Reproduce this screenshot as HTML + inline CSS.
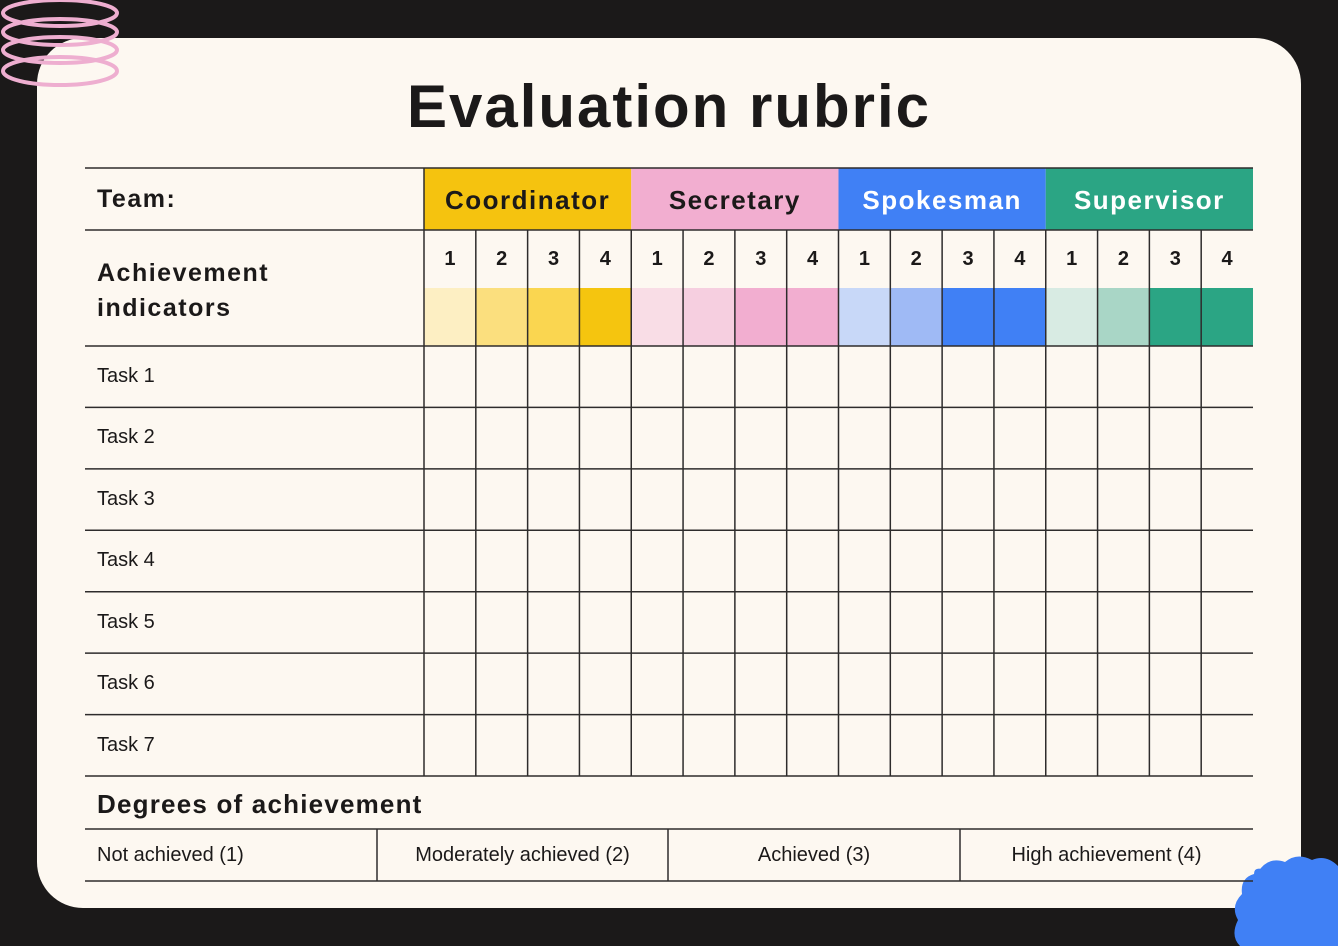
<!DOCTYPE html><html><head><style>
body{margin:0;width:1338px;height:946px;background:#1b1919;position:relative;overflow:hidden;font-family:"Liberation Sans",sans-serif;color:#1b1919}
.card{position:absolute;left:37px;top:38px;width:1264px;height:870px;background:#fdf8f1;border-radius:46px}
.a{position:absolute}
.t{position:absolute;white-space:nowrap}
</style></head><body>
<div class="card"></div>
<svg class="a" style="left:0;top:0" width="1338" height="946">
<g fill="none" stroke="#eeaed0" stroke-width="4">
<ellipse cx="60" cy="13" rx="57" ry="13"/><ellipse cx="60" cy="32" rx="57" ry="13"/>
<ellipse cx="60" cy="50" rx="57" ry="13"/><ellipse cx="60" cy="71" rx="57" ry="14"/></g>
<path fill="#4080f5" d="M1258 872 q10-16 27-10 q12-10 27-2 q14-6 26 6 V946 H1240 q-10-10-2-26 q-8-14 4-26 q-2-16 12-20 q0-8 11-4z"/>
<g id="g"></g>
</svg>
<div class="t" style="left:0;width:1338px;text-align:center;top:72px;font-size:60px;font-weight:bold;letter-spacing:2px">Evaluation rubric</div>
<div id="c"></div>
<script>
let s='',h='';
const L=85,R=1253,X=424,w=(R-X)/16;
const hc=['#f5c30f','#f2aed0','#4080f5','#2ba584'],ht=['Coordinator','Secretary','Spokesman','Supervisor'],tc=['#1b1919','#1b1919','#fff','#fff'];
const sh=[['#fdefc3','#fbdf7e','#fad650','#f5c50f'],['#f9dde6','#f6cfe0','#f2aed0','#f2aed0'],['#c8d8f8','#9fbaf5','#4080f5','#4080f5'],['#d8ebe3','#a9d6c6','#2ba584','#2ba584']];
for(let g=0;g<4;g++){s+=`<rect x="${X+g*4*w}" y="168" width="${4*w}" height="62" fill="${hc[g]}"/>`;
h+=`<div class="t" style="left:${X+g*4*w}px;width:${4*w}px;text-align:center;top:185px;font-size:26px;font-weight:bold;letter-spacing:1.5px;color:${tc[g]}">${ht[g]}</div>`;
for(let i=0;i<4;i++){const x=X+(g*4+i)*w;s+=`<rect x="${x}" y="288" width="${w}" height="58" fill="${sh[g][i]}"/>`;
h+=`<div class="t" style="left:${x}px;width:${w}px;text-align:center;top:248px;font-size:20px;font-weight:bold">${i+1}</div>`;}}
const ln=(x1,y1,x2,y2)=>s+=`<line x1="${x1}" y1="${y1}" x2="${x2}" y2="${y2}" stroke="#2e2c2c" stroke-width="1.5"/>`;
ln(L,168,R,168);ln(L,230,R,230);
const rh=(776-346)/7;
for(let r=0;r<=7;r++)ln(L,346+r*rh,R,346+r*rh);
ln(X,168,X,776);
for(let i=1;i<16;i++)ln(X+i*w,230,X+i*w,776);
for(let r=0;r<7;r++)h+=`<div class="t" style="left:97px;top:${365+r*rh}px;font-size:20px">Task ${r+1}</div>`;
ln(L,829,R,829);ln(L,881,R,881);
const bx=[85,377,668,960,1253],bt=['Not achieved (1)','Moderately achieved (2)','Achieved (3)','High achievement (4)'];
for(let i=1;i<4;i++)ln(bx[i],829,bx[i],881);
bt.forEach((t,i)=>h+=`<div class="t" style="left:${i==0?97:bx[i]}px;${i?`width:${bx[i+1]-bx[i]}px;text-align:center;`:''}top:844px;font-size:20px">${t}</div>`);
h+=`<div class="t" style="left:97px;top:185px;font-size:25px;font-weight:bold;letter-spacing:1.5px">Team:</div>
<div class="t" style="left:97px;top:256px;font-size:25px;font-weight:bold;line-height:35px;letter-spacing:1.5px">Achievement<br>indicators</div>
<div class="t" style="left:97px;top:789px;font-size:26px;font-weight:bold;letter-spacing:1.2px">Degrees of achievement</div>`;
document.getElementById('g').innerHTML=s;document.getElementById('c').innerHTML=h;
</script></body></html>
